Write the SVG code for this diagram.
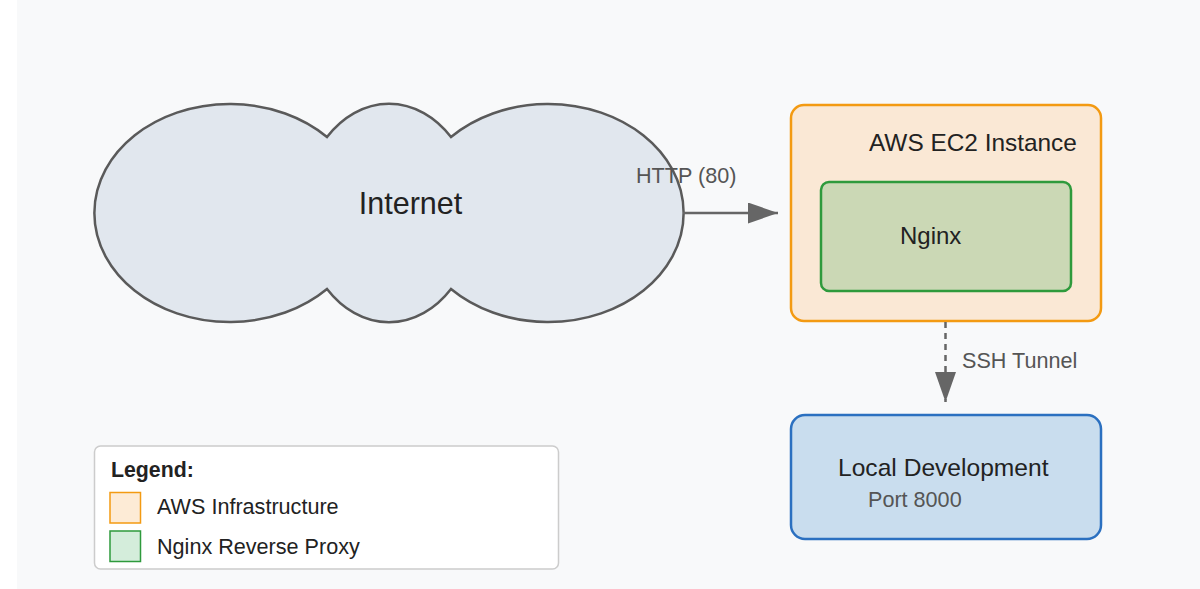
<svg xmlns="http://www.w3.org/2000/svg" width="1200" height="589" viewBox="0 0 1200 589">
  <defs>
    <style>
      text { font-family: "Liberation Sans", Arial, sans-serif; }
      .lbl { fill: #555555; font-size: 21.6px; }
      .dark { fill: #222222; }
      .edge { stroke: #666666; stroke-width: 2.5; fill: none; }
    </style>
    <marker id="arrow" markerWidth="30" markerHeight="21" refX="30" refY="10.5" orient="auto" markerUnits="userSpaceOnUse">
      <path d="M0,0 L30,10.5 L0,21 Z" fill="#666666"/>
    </marker>
  </defs>
  <rect x="0" y="0" width="1200" height="589" fill="#ffffff"/>
  <rect x="17" y="0" width="1183" height="589" fill="#f8f9fa"/>

  <g id="internet">
    <path d="M327,137 A87.5,113 0 0 1 451,137 A135.5,109 0 1 1 451,289 A87.5,113 0 0 1 327,289 A135.5,109 0 1 1 327,137 Z" fill="#e1e7ee" stroke="#5a5a5a" stroke-width="2.5"/>
    <text x="410.5" y="214" font-size="30.5" text-anchor="middle" class="dark">Internet</text>
  </g>

  <g id="ec2">
    <rect x="791" y="105" width="310" height="216" rx="13" fill="#fae8d5" stroke="#f39a12" stroke-width="2.5"/>
    <text x="869" y="151" font-size="24.4" class="dark">AWS EC2 Instance</text>
  </g>

  <g id="nginx">
    <rect x="821" y="182" width="250" height="109" rx="8" fill="#cbd8b5" stroke="#2e9a3c" stroke-width="2.5"/>
    <text x="900" y="244" font-size="24" class="dark">Nginx</text>
  </g>

  <g id="local">
    <rect x="791" y="415" width="310" height="124" rx="14" fill="#c9ddee" stroke="#2b70c0" stroke-width="2.5"/>
    <text x="838" y="476" font-size="24.6" class="dark">Local Development</text>
    <text x="868" y="507" class="lbl">Port 8000</text>
  </g>

  <g id="connectors">
    <line x1="683" y1="213" x2="778" y2="213" class="edge" marker-end="url(#arrow)"/>
    <text x="636" y="183" class="lbl">HTTP (80)</text>
    <line x1="945.5" y1="322" x2="945.5" y2="402" class="edge" stroke-dasharray="6,5" marker-end="url(#arrow)"/>
    <text x="962" y="368" class="lbl">SSH Tunnel</text>
  </g>

  <g id="legend">
    <rect x="94.5" y="446" width="464" height="123" rx="6" fill="#ffffff" stroke="#cccccc" stroke-width="1.5"/>
    <text x="111" y="477" font-size="21.3" font-weight="bold" class="dark">Legend:</text>
    <rect x="110" y="492.5" width="30.5" height="30.5" fill="#fdebd6" stroke="#f39a12" stroke-width="1.5"/>
    <text x="157" y="514" font-size="21.6" class="dark">AWS Infrastructure</text>
    <rect x="110" y="531" width="30.5" height="30.5" fill="#d4eddb" stroke="#2e9a3c" stroke-width="1.5"/>
    <text x="157" y="554" font-size="21.6" class="dark">Nginx Reverse Proxy</text>
  </g>
</svg>
